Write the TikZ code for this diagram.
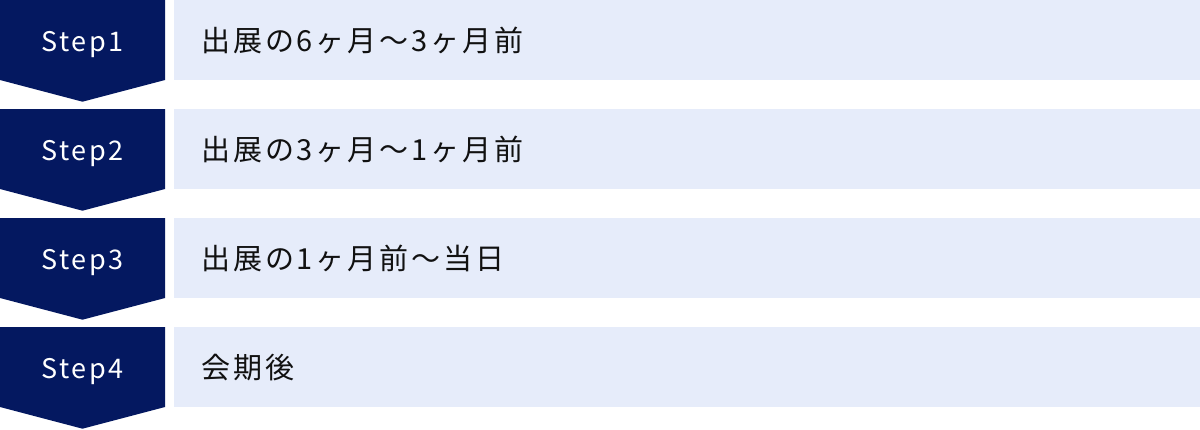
\documentclass[tikz,border=0pt]{standalone}
\usepackage{fontspec}
\newfontfamily\jpsp[LetterSpace=10]{Noto Sans CJK JP}
\definecolor{navy}{RGB}{4,24,96}
\definecolor{pale}{RGB}{230,236,250}
\definecolor{ink}{RGB}{17,17,17}
\begin{document}
\begin{tikzpicture}[x=1pt,y=1pt,
  stepshape/.style={fill=navy,draw=none},
  barshape/.style={fill=pale,draw=none},
  steplabel/.style={anchor=base west,text=white,inner sep=0pt,font=\jpsp\fontsize{27}{30}\selectfont},
  barlabel/.style={anchor=base west,text=ink,inner sep=0pt,font=\jpsp\fontsize{29}{34}\selectfont}]
\useasboundingbox (0,0) rectangle (1200,-429);
\foreach \i/\t/\txt in {1/0/出展の6ヶ月〜3ヶ月前, 2/109/出展の3ヶ月〜1ヶ月前, 3/218/出展の1ヶ月前〜当日, 4/327/会期後}{
  \fill[stepshape] (0,-\t) -- (165,-\t) -- (165,-\t-80) -- (82.5,-\t-101.7) -- (0,-\t-80) -- cycle;
  \fill[barshape] (174,-\t) rectangle (1200,-\t-80);
  \node[steplabel] (s\i) at (41,-\t-51) {Step\i};
  \node[barlabel] (b\i) at (201,-\t-51.5) {\txt};
}
\end{tikzpicture}
\end{document}
